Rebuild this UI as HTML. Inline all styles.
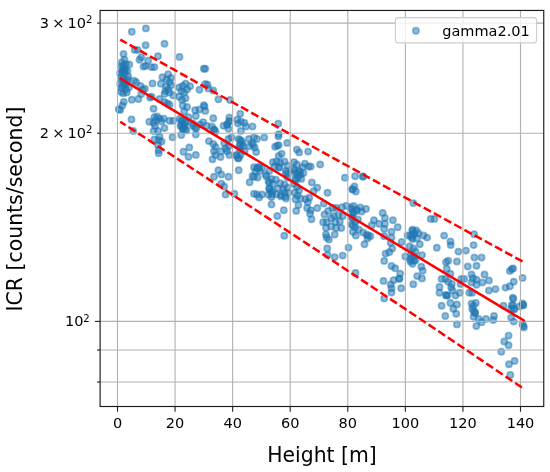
<!DOCTYPE html>
<html><head><meta charset="utf-8"><title>ICR vs Height</title>
<style>
html,body{margin:0;padding:0;background:#fff;}
body{width:550px;height:472px;overflow:hidden;}
svg{display:block;}
text{font-family:"DejaVu Sans","Liberation Sans",sans-serif;fill:#000;}
.g{stroke:#b0b0b0;stroke-width:1.1;fill:none;}
.t{stroke:#222;stroke-width:1.1;fill:none;}
.p circle{fill:#1f77b4;fill-opacity:.5;stroke:#1f77b4;stroke-opacity:.5;stroke-width:1.7;}
</style></head><body>
<svg width="550" height="472" viewBox="0 0 550 472">
<rect width="550" height="472" fill="#fff"/>
<g class="p">
<circle cx="131.8" cy="31.7" r="3.1"/>
<circle cx="145.9" cy="28.4" r="3.1"/>
<circle cx="145.6" cy="45.3" r="3.1"/>
<circle cx="164.5" cy="43.8" r="3.1"/>
<circle cx="134.7" cy="49.9" r="3.1"/>
<circle cx="137.6" cy="49.9" r="3.1"/>
<circle cx="123.5" cy="54.0" r="3.1"/>
<circle cx="158.0" cy="56.2" r="3.1"/>
<circle cx="179.5" cy="56.9" r="3.1"/>
<circle cx="141.3" cy="57.2" r="3.1"/>
<circle cx="139.5" cy="59.8" r="3.1"/>
<circle cx="148.1" cy="60.8" r="3.1"/>
<circle cx="124.5" cy="59.8" r="3.1"/>
<circle cx="121.9" cy="62.3" r="3.1"/>
<circle cx="129.3" cy="64.5" r="3.1"/>
<circle cx="143.5" cy="66.6" r="3.1"/>
<circle cx="145.6" cy="65.9" r="3.1"/>
<circle cx="151.5" cy="67.1" r="3.1"/>
<circle cx="154.4" cy="67.1" r="3.1"/>
<circle cx="123.8" cy="65.2" r="3.1"/>
<circle cx="123.1" cy="68.1" r="3.1"/>
<circle cx="125.3" cy="70.3" r="3.1"/>
<circle cx="122.4" cy="71.0" r="3.1"/>
<circle cx="127.5" cy="71.0" r="3.1"/>
<circle cx="124.5" cy="73.2" r="3.1"/>
<circle cx="120.2" cy="73.2" r="3.1"/>
<circle cx="168.2" cy="74.3" r="3.1"/>
<circle cx="120.9" cy="77.2" r="3.1"/>
<circle cx="128.2" cy="76.5" r="3.1"/>
<circle cx="123.1" cy="80.8" r="3.1"/>
<circle cx="120.2" cy="83.7" r="3.1"/>
<circle cx="125.3" cy="85.2" r="3.1"/>
<circle cx="121.6" cy="88.1" r="3.1"/>
<circle cx="126.0" cy="89.5" r="3.1"/>
<circle cx="128.9" cy="87.4" r="3.1"/>
<circle cx="123.1" cy="93.2" r="3.1"/>
<circle cx="126.7" cy="92.5" r="3.1"/>
<circle cx="120.9" cy="91.7" r="3.1"/>
<circle cx="123.8" cy="101.9" r="3.1"/>
<circle cx="122.4" cy="105.5" r="3.1"/>
<circle cx="120.2" cy="109.9" r="3.1"/>
<circle cx="118.7" cy="109.2" r="3.1"/>
<circle cx="131.8" cy="99.7" r="3.1"/>
<circle cx="138.4" cy="99.0" r="3.1"/>
<circle cx="141.3" cy="93.9" r="3.1"/>
<circle cx="134.0" cy="80.8" r="3.1"/>
<circle cx="136.2" cy="82.3" r="3.1"/>
<circle cx="140.5" cy="85.9" r="3.1"/>
<circle cx="144.9" cy="88.8" r="3.1"/>
<circle cx="142.7" cy="89.5" r="3.1"/>
<circle cx="152.5" cy="83.4" r="3.1"/>
<circle cx="160.9" cy="83.7" r="3.1"/>
<circle cx="151.5" cy="96.8" r="3.1"/>
<circle cx="150.0" cy="97.5" r="3.1"/>
<circle cx="131.5" cy="119.4" r="3.1"/>
<circle cx="153.6" cy="108.7" r="3.1"/>
<circle cx="149.3" cy="121.8" r="3.1"/>
<circle cx="154.4" cy="117.2" r="3.1"/>
<circle cx="157.3" cy="116.5" r="3.1"/>
<circle cx="159.5" cy="118.6" r="3.1"/>
<circle cx="155.8" cy="120.1" r="3.1"/>
<circle cx="153.6" cy="123.0" r="3.1"/>
<circle cx="155.1" cy="125.9" r="3.1"/>
<circle cx="163.8" cy="118.6" r="3.1"/>
<circle cx="161.6" cy="121.5" r="3.1"/>
<circle cx="169.6" cy="120.8" r="3.1"/>
<circle cx="173.3" cy="120.8" r="3.1"/>
<circle cx="164.5" cy="128.1" r="3.1"/>
<circle cx="158.0" cy="131.0" r="3.1"/>
<circle cx="153.6" cy="131.0" r="3.1"/>
<circle cx="133.3" cy="131.0" r="3.1"/>
<circle cx="159.5" cy="99.0" r="3.1"/>
<circle cx="164.5" cy="101.9" r="3.1"/>
<circle cx="167.5" cy="103.4" r="3.1"/>
<circle cx="169.6" cy="104.8" r="3.1"/>
<circle cx="166.7" cy="79.4" r="3.1"/>
<circle cx="169.6" cy="82.3" r="3.1"/>
<circle cx="171.1" cy="85.2" r="3.1"/>
<circle cx="166.0" cy="86.6" r="3.1"/>
<circle cx="168.2" cy="89.5" r="3.1"/>
<circle cx="165.3" cy="91.0" r="3.1"/>
<circle cx="169.6" cy="92.5" r="3.1"/>
<circle cx="164.5" cy="93.9" r="3.1"/>
<circle cx="173.3" cy="95.4" r="3.1"/>
<circle cx="162.4" cy="77.2" r="3.1"/>
<circle cx="171.1" cy="77.9" r="3.1"/>
<circle cx="179.1" cy="87.4" r="3.1"/>
<circle cx="182.7" cy="85.9" r="3.1"/>
<circle cx="185.6" cy="83.7" r="3.1"/>
<circle cx="181.3" cy="91.0" r="3.1"/>
<circle cx="184.2" cy="92.5" r="3.1"/>
<circle cx="187.1" cy="89.5" r="3.1"/>
<circle cx="179.1" cy="96.8" r="3.1"/>
<circle cx="182.0" cy="99.7" r="3.1"/>
<circle cx="185.6" cy="98.3" r="3.1"/>
<circle cx="182.7" cy="105.5" r="3.1"/>
<circle cx="187.1" cy="107.0" r="3.1"/>
<circle cx="184.2" cy="111.4" r="3.1"/>
<circle cx="179.8" cy="118.6" r="3.1"/>
<circle cx="182.7" cy="120.1" r="3.1"/>
<circle cx="185.6" cy="121.5" r="3.1"/>
<circle cx="181.3" cy="124.5" r="3.1"/>
<circle cx="184.9" cy="125.9" r="3.1"/>
<circle cx="182.7" cy="128.8" r="3.1"/>
<circle cx="186.4" cy="130.3" r="3.1"/>
<circle cx="188.5" cy="117.2" r="3.1"/>
<circle cx="154.4" cy="139.4" r="3.1"/>
<circle cx="158.7" cy="140.1" r="3.1"/>
<circle cx="161.6" cy="141.5" r="3.1"/>
<circle cx="159.5" cy="136.5" r="3.1"/>
<circle cx="158.0" cy="145.2" r="3.1"/>
<circle cx="158.7" cy="150.3" r="3.1"/>
<circle cx="158.7" cy="153.2" r="3.1"/>
<circle cx="172.5" cy="137.2" r="3.1"/>
<circle cx="181.3" cy="135.0" r="3.1"/>
<circle cx="183.5" cy="151.7" r="3.1"/>
<circle cx="189.3" cy="147.4" r="3.1"/>
<circle cx="188.5" cy="156.8" r="3.1"/>
<circle cx="203.8" cy="68.7" r="3.1"/>
<circle cx="205.3" cy="68.7" r="3.1"/>
<circle cx="205.3" cy="84.0" r="3.1"/>
<circle cx="207.5" cy="84.7" r="3.1"/>
<circle cx="208.2" cy="88.4" r="3.1"/>
<circle cx="199.5" cy="89.8" r="3.1"/>
<circle cx="213.3" cy="90.5" r="3.1"/>
<circle cx="190.0" cy="86.2" r="3.1"/>
<circle cx="218.4" cy="99.3" r="3.1"/>
<circle cx="230.0" cy="100.0" r="3.1"/>
<circle cx="203.8" cy="105.1" r="3.1"/>
<circle cx="204.5" cy="106.5" r="3.1"/>
<circle cx="205.3" cy="110.9" r="3.1"/>
<circle cx="199.5" cy="109.5" r="3.1"/>
<circle cx="195.1" cy="110.2" r="3.1"/>
<circle cx="195.8" cy="116.0" r="3.1"/>
<circle cx="213.3" cy="118.2" r="3.1"/>
<circle cx="229.3" cy="117.5" r="3.1"/>
<circle cx="240.2" cy="113.8" r="3.1"/>
<circle cx="237.3" cy="119.6" r="3.1"/>
<circle cx="192.9" cy="125.8" r="3.1"/>
<circle cx="196.5" cy="128.0" r="3.1"/>
<circle cx="200.2" cy="124.4" r="3.1"/>
<circle cx="203.1" cy="122.2" r="3.1"/>
<circle cx="195.8" cy="134.5" r="3.1"/>
<circle cx="206.7" cy="125.8" r="3.1"/>
<circle cx="211.8" cy="126.5" r="3.1"/>
<circle cx="214.0" cy="130.2" r="3.1"/>
<circle cx="223.5" cy="125.8" r="3.1"/>
<circle cx="227.1" cy="124.4" r="3.1"/>
<circle cx="228.5" cy="128.7" r="3.1"/>
<circle cx="229.3" cy="121.5" r="3.1"/>
<circle cx="238.0" cy="123.6" r="3.1"/>
<circle cx="240.9" cy="121.5" r="3.1"/>
<circle cx="244.5" cy="122.9" r="3.1"/>
<circle cx="246.0" cy="126.5" r="3.1"/>
<circle cx="252.5" cy="126.5" r="3.1"/>
<circle cx="240.9" cy="130.9" r="3.1"/>
<circle cx="208.9" cy="141.1" r="3.1"/>
<circle cx="213.3" cy="144.0" r="3.1"/>
<circle cx="215.5" cy="146.9" r="3.1"/>
<circle cx="214.0" cy="151.3" r="3.1"/>
<circle cx="215.5" cy="154.9" r="3.1"/>
<circle cx="212.5" cy="159.3" r="3.1"/>
<circle cx="221.3" cy="151.3" r="3.1"/>
<circle cx="220.5" cy="157.1" r="3.1"/>
<circle cx="225.6" cy="148.4" r="3.1"/>
<circle cx="228.5" cy="146.2" r="3.1"/>
<circle cx="227.1" cy="151.3" r="3.1"/>
<circle cx="229.3" cy="154.9" r="3.1"/>
<circle cx="228.5" cy="138.9" r="3.1"/>
<circle cx="231.5" cy="137.5" r="3.1"/>
<circle cx="224.2" cy="143.3" r="3.1"/>
<circle cx="195.8" cy="154.9" r="3.1"/>
<circle cx="238.7" cy="138.9" r="3.1"/>
<circle cx="241.6" cy="141.1" r="3.1"/>
<circle cx="240.2" cy="144.7" r="3.1"/>
<circle cx="243.1" cy="146.2" r="3.1"/>
<circle cx="239.5" cy="149.1" r="3.1"/>
<circle cx="236.5" cy="154.9" r="3.1"/>
<circle cx="240.2" cy="155.6" r="3.1"/>
<circle cx="238.0" cy="158.5" r="3.1"/>
<circle cx="244.5" cy="151.3" r="3.1"/>
<circle cx="248.9" cy="138.9" r="3.1"/>
<circle cx="254.0" cy="137.5" r="3.1"/>
<circle cx="251.8" cy="143.3" r="3.1"/>
<circle cx="249.6" cy="146.2" r="3.1"/>
<circle cx="254.7" cy="147.6" r="3.1"/>
<circle cx="256.2" cy="152.0" r="3.1"/>
<circle cx="253.3" cy="144.7" r="3.1"/>
<circle cx="256.9" cy="138.9" r="3.1"/>
<circle cx="264.2" cy="137.5" r="3.1"/>
<circle cx="218.4" cy="170.2" r="3.1"/>
<circle cx="221.3" cy="174.5" r="3.1"/>
<circle cx="214.0" cy="176.7" r="3.1"/>
<circle cx="228.5" cy="176.7" r="3.1"/>
<circle cx="238.7" cy="170.2" r="3.1"/>
<circle cx="254.0" cy="167.3" r="3.1"/>
<circle cx="257.6" cy="168.0" r="3.1"/>
<circle cx="259.8" cy="170.9" r="3.1"/>
<circle cx="255.5" cy="171.6" r="3.1"/>
<circle cx="252.5" cy="176.0" r="3.1"/>
<circle cx="257.6" cy="177.5" r="3.1"/>
<circle cx="262.0" cy="168.0" r="3.1"/>
<circle cx="265.6" cy="174.5" r="3.1"/>
<circle cx="269.3" cy="170.9" r="3.1"/>
<circle cx="221.3" cy="183.6" r="3.1"/>
<circle cx="224.2" cy="186.5" r="3.1"/>
<circle cx="225.6" cy="194.5" r="3.1"/>
<circle cx="234.4" cy="193.8" r="3.1"/>
<circle cx="249.6" cy="182.2" r="3.1"/>
<circle cx="254.0" cy="193.8" r="3.1"/>
<circle cx="256.9" cy="194.5" r="3.1"/>
<circle cx="259.1" cy="197.5" r="3.1"/>
<circle cx="262.0" cy="194.5" r="3.1"/>
<circle cx="269.3" cy="188.7" r="3.1"/>
<circle cx="268.5" cy="194.5" r="3.1"/>
<circle cx="269.3" cy="182.9" r="3.1"/>
<circle cx="278.3" cy="123.6" r="3.1"/>
<circle cx="278.7" cy="134.2" r="3.1"/>
<circle cx="278.4" cy="136.4" r="3.1"/>
<circle cx="287.2" cy="142.9" r="3.1"/>
<circle cx="278.7" cy="145.1" r="3.1"/>
<circle cx="275.1" cy="146.8" r="3.1"/>
<circle cx="277.3" cy="145.8" r="3.1"/>
<circle cx="296.9" cy="149.5" r="3.1"/>
<circle cx="299.1" cy="152.4" r="3.1"/>
<circle cx="308.1" cy="151.6" r="3.1"/>
<circle cx="281.6" cy="153.8" r="3.1"/>
<circle cx="278.7" cy="156.0" r="3.1"/>
<circle cx="272.9" cy="162.2" r="3.1"/>
<circle cx="276.5" cy="161.5" r="3.1"/>
<circle cx="280.2" cy="162.9" r="3.1"/>
<circle cx="278.7" cy="167.3" r="3.1"/>
<circle cx="274.4" cy="166.5" r="3.1"/>
<circle cx="284.5" cy="161.5" r="3.1"/>
<circle cx="287.5" cy="165.8" r="3.1"/>
<circle cx="286.0" cy="170.9" r="3.1"/>
<circle cx="288.2" cy="173.8" r="3.1"/>
<circle cx="294.0" cy="162.2" r="3.1"/>
<circle cx="296.9" cy="164.4" r="3.1"/>
<circle cx="293.3" cy="168.7" r="3.1"/>
<circle cx="295.5" cy="173.1" r="3.1"/>
<circle cx="299.1" cy="170.9" r="3.1"/>
<circle cx="300.5" cy="174.5" r="3.1"/>
<circle cx="298.4" cy="177.5" r="3.1"/>
<circle cx="302.7" cy="167.3" r="3.1"/>
<circle cx="304.9" cy="163.6" r="3.1"/>
<circle cx="308.5" cy="166.5" r="3.1"/>
<circle cx="310.7" cy="166.5" r="3.1"/>
<circle cx="303.5" cy="173.1" r="3.1"/>
<circle cx="301.3" cy="178.9" r="3.1"/>
<circle cx="295.5" cy="180.4" r="3.1"/>
<circle cx="320.2" cy="164.4" r="3.1"/>
<circle cx="311.9" cy="182.5" r="3.1"/>
<circle cx="317.3" cy="187.6" r="3.1"/>
<circle cx="313.6" cy="191.3" r="3.1"/>
<circle cx="344.9" cy="177.7" r="3.1"/>
<circle cx="271.5" cy="178.9" r="3.1"/>
<circle cx="275.8" cy="179.6" r="3.1"/>
<circle cx="272.9" cy="184.0" r="3.1"/>
<circle cx="280.2" cy="183.3" r="3.1"/>
<circle cx="284.5" cy="184.7" r="3.1"/>
<circle cx="278.0" cy="188.4" r="3.1"/>
<circle cx="283.1" cy="189.1" r="3.1"/>
<circle cx="287.5" cy="187.6" r="3.1"/>
<circle cx="272.2" cy="191.3" r="3.1"/>
<circle cx="276.5" cy="194.2" r="3.1"/>
<circle cx="280.9" cy="196.4" r="3.1"/>
<circle cx="286.0" cy="198.5" r="3.1"/>
<circle cx="271.5" cy="197.1" r="3.1"/>
<circle cx="284.5" cy="192.7" r="3.1"/>
<circle cx="288.2" cy="192.7" r="3.1"/>
<circle cx="294.0" cy="184.0" r="3.1"/>
<circle cx="296.9" cy="186.9" r="3.1"/>
<circle cx="299.1" cy="190.5" r="3.1"/>
<circle cx="294.7" cy="192.7" r="3.1"/>
<circle cx="297.6" cy="195.6" r="3.1"/>
<circle cx="295.5" cy="199.3" r="3.1"/>
<circle cx="300.5" cy="198.5" r="3.1"/>
<circle cx="305.6" cy="199.3" r="3.1"/>
<circle cx="309.3" cy="197.8" r="3.1"/>
<circle cx="307.8" cy="202.2" r="3.1"/>
<circle cx="298.4" cy="205.1" r="3.1"/>
<circle cx="296.2" cy="210.9" r="3.1"/>
<circle cx="271.5" cy="204.4" r="3.1"/>
<circle cx="283.8" cy="210.2" r="3.1"/>
<circle cx="277.3" cy="216.0" r="3.1"/>
<circle cx="327.5" cy="192.7" r="3.1"/>
<circle cx="323.8" cy="203.6" r="3.1"/>
<circle cx="317.3" cy="208.0" r="3.1"/>
<circle cx="307.1" cy="208.0" r="3.1"/>
<circle cx="310.7" cy="210.2" r="3.1"/>
<circle cx="310.0" cy="213.8" r="3.1"/>
<circle cx="332.5" cy="208.0" r="3.1"/>
<circle cx="336.2" cy="208.0" r="3.1"/>
<circle cx="342.0" cy="207.3" r="3.1"/>
<circle cx="346.4" cy="205.8" r="3.1"/>
<circle cx="328.2" cy="210.9" r="3.1"/>
<circle cx="324.5" cy="214.5" r="3.1"/>
<circle cx="334.0" cy="216.0" r="3.1"/>
<circle cx="338.4" cy="215.3" r="3.1"/>
<circle cx="342.7" cy="216.0" r="3.1"/>
<circle cx="331.1" cy="218.2" r="3.1"/>
<circle cx="284.3" cy="235.7" r="3.1"/>
<circle cx="311.5" cy="219.3" r="3.1"/>
<circle cx="323.1" cy="222.2" r="3.1"/>
<circle cx="326.7" cy="222.2" r="3.1"/>
<circle cx="335.5" cy="222.2" r="3.1"/>
<circle cx="339.8" cy="221.5" r="3.1"/>
<circle cx="326.0" cy="228.0" r="3.1"/>
<circle cx="331.1" cy="226.5" r="3.1"/>
<circle cx="336.2" cy="228.0" r="3.1"/>
<circle cx="341.3" cy="228.0" r="3.1"/>
<circle cx="334.7" cy="234.5" r="3.1"/>
<circle cx="326.0" cy="234.5" r="3.1"/>
<circle cx="326.7" cy="237.5" r="3.1"/>
<circle cx="328.9" cy="239.6" r="3.1"/>
<circle cx="327.2" cy="248.4" r="3.1"/>
<circle cx="327.5" cy="254.9" r="3.1"/>
<circle cx="334.7" cy="257.1" r="3.1"/>
<circle cx="342.7" cy="255.6" r="3.1"/>
<circle cx="348.5" cy="247.6" r="3.1"/>
<circle cx="355.1" cy="176.2" r="3.1"/>
<circle cx="362.8" cy="176.5" r="3.1"/>
<circle cx="354.4" cy="186.4" r="3.1"/>
<circle cx="352.2" cy="189.3" r="3.1"/>
<circle cx="355.8" cy="191.5" r="3.1"/>
<circle cx="353.6" cy="206.0" r="3.1"/>
<circle cx="360.2" cy="207.5" r="3.1"/>
<circle cx="366.0" cy="208.9" r="3.1"/>
<circle cx="350.7" cy="207.5" r="3.1"/>
<circle cx="413.3" cy="203.1" r="3.1"/>
<circle cx="352.9" cy="212.2" r="3.1"/>
<circle cx="356.5" cy="210.7" r="3.1"/>
<circle cx="361.6" cy="211.5" r="3.1"/>
<circle cx="352.2" cy="217.3" r="3.1"/>
<circle cx="358.0" cy="219.5" r="3.1"/>
<circle cx="382.7" cy="212.9" r="3.1"/>
<circle cx="384.9" cy="218.0" r="3.1"/>
<circle cx="374.0" cy="220.2" r="3.1"/>
<circle cx="379.1" cy="223.8" r="3.1"/>
<circle cx="384.9" cy="223.8" r="3.1"/>
<circle cx="371.8" cy="225.3" r="3.1"/>
<circle cx="392.9" cy="220.2" r="3.1"/>
<circle cx="397.7" cy="227.2" r="3.1"/>
<circle cx="384.2" cy="228.9" r="3.1"/>
<circle cx="391.5" cy="231.8" r="3.1"/>
<circle cx="384.2" cy="236.2" r="3.1"/>
<circle cx="391.5" cy="237.6" r="3.1"/>
<circle cx="390.7" cy="242.7" r="3.1"/>
<circle cx="401.6" cy="242.0" r="3.1"/>
<circle cx="392.2" cy="248.5" r="3.1"/>
<circle cx="389.3" cy="252.2" r="3.1"/>
<circle cx="385.6" cy="253.6" r="3.1"/>
<circle cx="384.2" cy="260.9" r="3.1"/>
<circle cx="391.5" cy="266.0" r="3.1"/>
<circle cx="395.1" cy="268.2" r="3.1"/>
<circle cx="351.5" cy="224.5" r="3.1"/>
<circle cx="355.1" cy="227.5" r="3.1"/>
<circle cx="358.7" cy="229.6" r="3.1"/>
<circle cx="352.9" cy="231.8" r="3.1"/>
<circle cx="355.8" cy="235.5" r="3.1"/>
<circle cx="363.1" cy="232.5" r="3.1"/>
<circle cx="366.7" cy="234.7" r="3.1"/>
<circle cx="370.4" cy="236.2" r="3.1"/>
<circle cx="367.5" cy="238.4" r="3.1"/>
<circle cx="364.5" cy="244.2" r="3.1"/>
<circle cx="412.5" cy="229.6" r="3.1"/>
<circle cx="416.2" cy="230.4" r="3.1"/>
<circle cx="414.0" cy="234.0" r="3.1"/>
<circle cx="410.4" cy="235.5" r="3.1"/>
<circle cx="418.4" cy="233.3" r="3.1"/>
<circle cx="407.5" cy="235.5" r="3.1"/>
<circle cx="412.5" cy="239.1" r="3.1"/>
<circle cx="416.9" cy="238.4" r="3.1"/>
<circle cx="423.5" cy="235.5" r="3.1"/>
<circle cx="427.1" cy="237.6" r="3.1"/>
<circle cx="419.8" cy="244.2" r="3.1"/>
<circle cx="409.6" cy="246.4" r="3.1"/>
<circle cx="413.3" cy="248.5" r="3.1"/>
<circle cx="415.5" cy="251.5" r="3.1"/>
<circle cx="411.1" cy="253.6" r="3.1"/>
<circle cx="414.0" cy="256.5" r="3.1"/>
<circle cx="405.3" cy="256.5" r="3.1"/>
<circle cx="410.4" cy="259.5" r="3.1"/>
<circle cx="415.5" cy="260.2" r="3.1"/>
<circle cx="422.0" cy="255.1" r="3.1"/>
<circle cx="412.5" cy="263.8" r="3.1"/>
<circle cx="421.3" cy="266.7" r="3.1"/>
<circle cx="355.5" cy="272.9" r="3.1"/>
<circle cx="383.5" cy="280.9" r="3.1"/>
<circle cx="393.6" cy="280.2" r="3.1"/>
<circle cx="399.5" cy="278.7" r="3.1"/>
<circle cx="400.2" cy="273.6" r="3.1"/>
<circle cx="390.7" cy="284.5" r="3.1"/>
<circle cx="391.5" cy="288.2" r="3.1"/>
<circle cx="391.5" cy="292.5" r="3.1"/>
<circle cx="384.2" cy="298.4" r="3.1"/>
<circle cx="401.2" cy="288.2" r="3.1"/>
<circle cx="413.3" cy="284.3" r="3.1"/>
<circle cx="417.2" cy="276.1" r="3.1"/>
<circle cx="422.0" cy="278.4" r="3.1"/>
<circle cx="422.7" cy="270.7" r="3.1"/>
<circle cx="430.7" cy="218.9" r="3.1"/>
<circle cx="434.4" cy="218.9" r="3.1"/>
<circle cx="444.1" cy="235.6" r="3.1"/>
<circle cx="450.4" cy="241.5" r="3.1"/>
<circle cx="450.7" cy="245.1" r="3.1"/>
<circle cx="436.8" cy="247.7" r="3.1"/>
<circle cx="458.4" cy="251.6" r="3.1"/>
<circle cx="465.9" cy="250.6" r="3.1"/>
<circle cx="474.1" cy="234.2" r="3.1"/>
<circle cx="473.6" cy="245.1" r="3.1"/>
<circle cx="474.4" cy="257.5" r="3.1"/>
<circle cx="481.6" cy="257.5" r="3.1"/>
<circle cx="446.0" cy="262.2" r="3.1"/>
<circle cx="448.2" cy="260.7" r="3.1"/>
<circle cx="456.9" cy="261.5" r="3.1"/>
<circle cx="446.7" cy="268.7" r="3.1"/>
<circle cx="450.4" cy="273.8" r="3.1"/>
<circle cx="441.6" cy="278.9" r="3.1"/>
<circle cx="445.3" cy="278.9" r="3.1"/>
<circle cx="448.2" cy="281.8" r="3.1"/>
<circle cx="451.8" cy="284.0" r="3.1"/>
<circle cx="451.1" cy="287.6" r="3.1"/>
<circle cx="452.5" cy="290.5" r="3.1"/>
<circle cx="439.5" cy="286.9" r="3.1"/>
<circle cx="439.5" cy="292.7" r="3.1"/>
<circle cx="446.0" cy="294.9" r="3.1"/>
<circle cx="447.5" cy="295.6" r="3.1"/>
<circle cx="455.5" cy="295.6" r="3.1"/>
<circle cx="459.8" cy="292.7" r="3.1"/>
<circle cx="461.3" cy="278.9" r="3.1"/>
<circle cx="464.2" cy="278.9" r="3.1"/>
<circle cx="460.5" cy="284.0" r="3.1"/>
<circle cx="467.8" cy="266.5" r="3.1"/>
<circle cx="476.5" cy="265.8" r="3.1"/>
<circle cx="471.5" cy="274.5" r="3.1"/>
<circle cx="472.9" cy="278.2" r="3.1"/>
<circle cx="476.5" cy="279.6" r="3.1"/>
<circle cx="471.5" cy="282.5" r="3.1"/>
<circle cx="476.5" cy="284.7" r="3.1"/>
<circle cx="482.4" cy="282.5" r="3.1"/>
<circle cx="484.5" cy="274.5" r="3.1"/>
<circle cx="488.9" cy="280.4" r="3.1"/>
<circle cx="469.3" cy="292.7" r="3.1"/>
<circle cx="472.2" cy="292.7" r="3.1"/>
<circle cx="488.9" cy="290.5" r="3.1"/>
<circle cx="495.5" cy="289.1" r="3.1"/>
<circle cx="505.6" cy="287.6" r="3.1"/>
<circle cx="441.6" cy="305.8" r="3.1"/>
<circle cx="450.4" cy="302.9" r="3.1"/>
<circle cx="456.9" cy="304.4" r="3.1"/>
<circle cx="453.3" cy="308.7" r="3.1"/>
<circle cx="456.2" cy="313.8" r="3.1"/>
<circle cx="445.3" cy="316.0" r="3.1"/>
<circle cx="471.5" cy="303.6" r="3.1"/>
<circle cx="475.8" cy="302.9" r="3.1"/>
<circle cx="473.6" cy="310.9" r="3.1"/>
<circle cx="475.1" cy="313.1" r="3.1"/>
<circle cx="473.6" cy="316.7" r="3.1"/>
<circle cx="478.7" cy="318.9" r="3.1"/>
<circle cx="486.0" cy="318.9" r="3.1"/>
<circle cx="494.0" cy="316.0" r="3.1"/>
<circle cx="503.5" cy="305.8" r="3.1"/>
<circle cx="456.9" cy="324.4" r="3.1"/>
<circle cx="476.3" cy="326.1" r="3.1"/>
<circle cx="481.6" cy="322.2" r="3.1"/>
<circle cx="493.3" cy="320.0" r="3.1"/>
<circle cx="504.2" cy="341.5" r="3.1"/>
<circle cx="501.3" cy="351.7" r="3.1"/>
<circle cx="509.9" cy="270.9" r="3.1"/>
<circle cx="511.8" cy="269.0" r="3.1"/>
<circle cx="513.1" cy="268.4" r="3.1"/>
<circle cx="522.6" cy="277.9" r="3.1"/>
<circle cx="513.7" cy="281.7" r="3.1"/>
<circle cx="509.9" cy="286.2" r="3.1"/>
<circle cx="512.8" cy="297.6" r="3.1"/>
<circle cx="513.3" cy="298.9" r="3.1"/>
<circle cx="511.8" cy="305.3" r="3.1"/>
<circle cx="522.6" cy="303.4" r="3.1"/>
<circle cx="523.3" cy="305.3" r="3.1"/>
<circle cx="511.2" cy="308.9" r="3.1"/>
<circle cx="514.4" cy="309.5" r="3.1"/>
<circle cx="519.5" cy="306.4" r="3.1"/>
<circle cx="511.2" cy="317.8" r="3.1"/>
<circle cx="513.7" cy="321.6" r="3.1"/>
<circle cx="522.6" cy="324.2" r="3.1"/>
<circle cx="523.3" cy="326.1" r="3.1"/>
<circle cx="523.9" cy="327.4" r="3.1"/>
<circle cx="508.6" cy="335.6" r="3.1"/>
<circle cx="508.6" cy="345.2" r="3.1"/>
<circle cx="514.6" cy="360.9" r="3.1"/>
<circle cx="509.0" cy="364.3" r="3.1"/>
<circle cx="510.3" cy="374.9" r="3.1"/>
<circle cx="122.4" cy="72.1" r="3.1"/>
<circle cx="124.5" cy="69.2" r="3.1"/>
<circle cx="121.6" cy="66.3" r="3.1"/>
<circle cx="126.0" cy="64.1" r="3.1"/>
<circle cx="123.8" cy="78.6" r="3.1"/>
<circle cx="126.7" cy="81.5" r="3.1"/>
<circle cx="122.4" cy="85.2" r="3.1"/>
<circle cx="124.5" cy="83.0" r="3.1"/>
<circle cx="127.5" cy="79.4" r="3.1"/>
<circle cx="181.3" cy="121.0" r="3.1"/>
<circle cx="183.5" cy="124.6" r="3.1"/>
<circle cx="182.7" cy="128.3" r="3.1"/>
<circle cx="185.6" cy="122.5" r="3.1"/>
<circle cx="184.9" cy="129.7" r="3.1"/>
<circle cx="180.5" cy="126.1" r="3.1"/>
<circle cx="236.5" cy="155.8" r="3.1"/>
<circle cx="238.7" cy="158.0" r="3.1"/>
<circle cx="256.9" cy="168.2" r="3.1"/>
<circle cx="259.1" cy="166.7" r="3.1"/>
<circle cx="254.0" cy="176.9" r="3.1"/>
<circle cx="270.7" cy="191.5" r="3.1"/>
<circle cx="272.2" cy="194.4" r="3.1"/>
<circle cx="269.3" cy="188.5" r="3.1"/>
<circle cx="294.7" cy="170.4" r="3.1"/>
<circle cx="297.6" cy="174.7" r="3.1"/>
<circle cx="295.5" cy="178.4" r="3.1"/>
<circle cx="299.8" cy="171.8" r="3.1"/>
<circle cx="279.5" cy="167.5" r="3.1"/>
<circle cx="266.4" cy="176.2" r="3.1"/>
<circle cx="268.5" cy="181.3" r="3.1"/>
<circle cx="286.0" cy="173.3" r="3.1"/>
<circle cx="287.5" cy="177.6" r="3.1"/>
<circle cx="280.9" cy="195.1" r="3.1"/>
<circle cx="285.3" cy="196.5" r="3.1"/>
<circle cx="363.2" cy="176.6" r="3.1"/>
<circle cx="352.9" cy="189.4" r="3.1"/>
<circle cx="351.5" cy="209.4" r="3.1"/>
<circle cx="353.6" cy="213.0" r="3.1"/>
<circle cx="352.2" cy="218.1" r="3.1"/>
<circle cx="355.1" cy="222.5" r="3.1"/>
<circle cx="352.9" cy="225.4" r="3.1"/>
<circle cx="356.5" cy="209.4" r="3.1"/>
<circle cx="368.2" cy="235.5" r="3.1"/>
<circle cx="412.5" cy="230.6" r="3.1"/>
<circle cx="414.0" cy="233.5" r="3.1"/>
<circle cx="411.8" cy="237.2" r="3.1"/>
<circle cx="411.8" cy="257.9" r="3.1"/>
<circle cx="414.0" cy="260.8" r="3.1"/>
<circle cx="410.4" cy="261.5" r="3.1"/>
<circle cx="399.0" cy="278.6" r="3.1"/>
<circle cx="446.4" cy="295.4" r="3.1"/>
<circle cx="473.6" cy="305.8" r="3.1"/>
<circle cx="475.1" cy="312.4" r="3.1"/>
<circle cx="472.2" cy="308.7" r="3.1"/>
<circle cx="512.9" cy="305.1" r="3.1"/>
<circle cx="513.6" cy="308.7" r="3.1"/>
<circle cx="523.1" cy="305.1" r="3.1"/>
<circle cx="240.2" cy="140.2" r="3.1"/>
<circle cx="242.4" cy="143.8" r="3.1"/>
<circle cx="239.5" cy="146.0" r="3.1"/>
<circle cx="214.0" cy="129.3" r="3.1"/>
<circle cx="215.5" cy="131.5" r="3.1"/>
<circle cx="227.1" cy="124.9" r="3.1"/>
<circle cx="229.3" cy="121.3" r="3.1"/>
<circle cx="192.9" cy="123.5" r="3.1"/>
<circle cx="195.1" cy="127.8" r="3.1"/>
</g>
<g class="g">
<line x1="117.50" y1="10.45" x2="117.50" y2="406.5"/>
<line x1="175.07" y1="10.45" x2="175.07" y2="406.5"/>
<line x1="232.64" y1="10.45" x2="232.64" y2="406.5"/>
<line x1="290.22" y1="10.45" x2="290.22" y2="406.5"/>
<line x1="347.79" y1="10.45" x2="347.79" y2="406.5"/>
<line x1="405.36" y1="10.45" x2="405.36" y2="406.5"/>
<line x1="462.93" y1="10.45" x2="462.93" y2="406.5"/>
<line x1="520.50" y1="10.45" x2="520.50" y2="406.5"/>
<line x1="100.1" y1="381.99" x2="543.75" y2="381.99"/>
<line x1="100.1" y1="350.01" x2="543.75" y2="350.01"/>
<line x1="100.1" y1="321.40" x2="543.75" y2="321.40"/>
<line x1="100.1" y1="133.20" x2="543.75" y2="133.20"/>
<line x1="100.1" y1="23.10" x2="543.75" y2="23.10"/>
</g>
<g fill="none" stroke="#f00" stroke-width="2.5">
<polyline points="120.3,39.66 127.0,43.41 133.7,47.16 140.4,50.91 147.1,54.66 153.8,58.41 160.5,62.15 167.2,65.89 173.9,69.63 180.6,73.37 187.3,77.11 194.0,80.84 200.7,84.58 207.4,88.31 214.1,92.04 220.8,95.77 227.6,99.49 234.3,103.22 241.0,106.94 247.7,110.66 254.4,114.38 261.1,118.10 267.8,121.81 274.5,125.52 281.2,129.23 287.9,132.94 294.6,136.65 301.3,140.35 308.0,144.06 314.7,147.76 321.4,151.46 328.1,155.15 334.8,158.85 341.5,162.54 348.2,166.23 354.9,169.92 361.6,173.61 368.3,177.29 375.0,180.97 381.7,184.65 388.4,188.33 395.1,192.01 401.8,195.68 408.5,199.35 415.2,203.02 421.9,206.69 428.7,210.36 435.4,214.02 442.1,217.68 448.8,221.34 455.5,225.00 462.2,228.65 468.9,232.30 475.6,235.95 482.3,239.60 489.0,243.25 495.7,246.89 502.4,250.53 509.1,254.17 515.8,257.81 522.5,261.44" stroke-dasharray="8.2 3.39" stroke-dashoffset="0.85"/>
<line x1="120.5" y1="78.5" x2="523.7" y2="320.4" stroke-linecap="square"/>
<polyline points="120.3,121.72 127.0,126.06 133.7,130.41 140.4,134.75 147.1,139.10 153.8,143.46 160.5,147.81 167.2,152.17 173.9,156.53 180.6,160.90 187.3,165.26 194.0,169.63 200.7,174.00 207.4,178.38 214.1,182.76 220.8,187.14 227.5,191.52 234.2,195.91 240.9,200.30 247.6,204.69 254.3,209.09 261.0,213.48 267.7,217.89 274.4,222.29 281.1,226.70 287.8,231.11 294.5,235.53 301.2,239.94 307.9,244.37 314.6,248.79 321.3,253.22 328.0,257.65 334.7,262.08 341.4,266.52 348.1,270.97 354.8,275.41 361.5,279.86 368.2,284.31 374.9,288.77 381.6,293.23 388.3,297.69 395.0,302.16 401.7,306.63 408.4,311.11 415.1,315.58 421.8,320.07 428.5,324.55 435.2,329.04 441.9,333.54 448.6,338.04 455.3,342.54 462.0,347.05 468.7,351.56 475.4,356.07 482.1,360.59 488.8,365.12 495.5,369.65 502.2,374.18 508.9,378.72 515.6,383.26 522.3,387.81" stroke-dasharray="8.2 3.39" stroke-dashoffset="1.8"/>
</g>
<g class="t">
<line x1="117.50" y1="406.5" x2="117.50" y2="411.7"/>
<line x1="175.07" y1="406.5" x2="175.07" y2="411.7"/>
<line x1="232.64" y1="406.5" x2="232.64" y2="411.7"/>
<line x1="290.22" y1="406.5" x2="290.22" y2="411.7"/>
<line x1="347.79" y1="406.5" x2="347.79" y2="411.7"/>
<line x1="405.36" y1="406.5" x2="405.36" y2="411.7"/>
<line x1="462.93" y1="406.5" x2="462.93" y2="411.7"/>
<line x1="520.50" y1="406.5" x2="520.50" y2="411.7"/>
<line x1="97.0" y1="381.99" x2="100.1" y2="381.99"/>
<line x1="97.0" y1="350.01" x2="100.1" y2="350.01"/>
<line x1="97.0" y1="133.20" x2="100.1" y2="133.20"/>
<line x1="97.0" y1="23.10" x2="100.1" y2="23.10"/>
<line x1="94.89999999999999" y1="321.40" x2="100.1" y2="321.40"/>
</g>
<rect x="100.1" y="10.45" width="443.65" height="396.05" fill="none" stroke="#1a1a1a" stroke-width="1.15"/>
<text x="117.50" y="427.9" font-size="14.5" text-anchor="middle">0</text>
<text x="175.07" y="427.9" font-size="14.5" text-anchor="middle">20</text>
<text x="232.64" y="427.9" font-size="14.5" text-anchor="middle">40</text>
<text x="290.22" y="427.9" font-size="14.5" text-anchor="middle">60</text>
<text x="347.79" y="427.9" font-size="14.5" text-anchor="middle">80</text>
<text x="405.36" y="427.9" font-size="14.5" text-anchor="middle">100</text>
<text x="462.93" y="427.9" font-size="14.5" text-anchor="middle">120</text>
<text x="520.50" y="427.9" font-size="14.5" text-anchor="middle">140</text>
<text x="92.4" y="27.60" font-size="14.5" text-anchor="end" style="word-spacing:-1.4px">3 × 10<tspan font-size="10.1" dy="-4.7">2</tspan></text>
<text x="92.4" y="138.10" font-size="14.5" text-anchor="end" style="word-spacing:-1.4px">2 × 10<tspan font-size="10.1" dy="-4.7">2</tspan></text>
<text x="89.8" y="326.40" font-size="14.5" text-anchor="end">10<tspan font-size="10.1" dy="-4.2">2</tspan></text>
<text x="322" y="461.8" font-size="20.35" text-anchor="middle">Height [m]</text>
<text transform="translate(21.6 209) rotate(-90)" font-size="20.45" text-anchor="middle">ICR [counts/second]</text>
<rect x="395.4" y="17.6" width="141.2" height="25.3" rx="2.8" ry="2.8" fill="#fff" fill-opacity=".8" stroke="#ccc" stroke-width="1.1"/>
<g class="p"><circle cx="415.9" cy="30.8" r="3.1"/></g>
<text x="442.2" y="35.6" font-size="14.5">gamma2.01</text>
</svg>
</body></html>
